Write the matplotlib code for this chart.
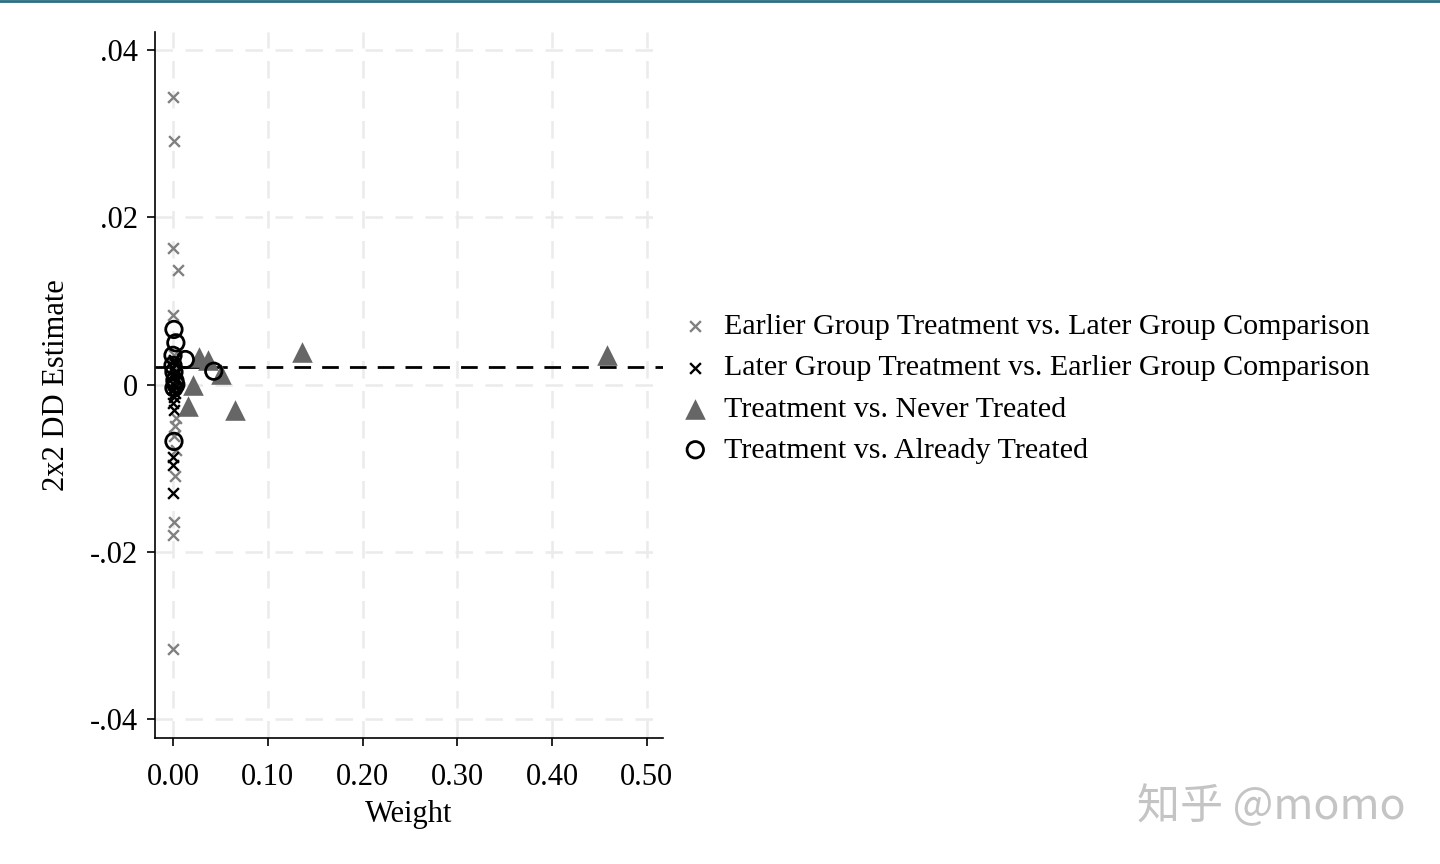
import matplotlib.pyplot as plt
from matplotlib.lines import Line2D

# Earlier group treatment vs later group comparison
early_w = [0.000, 0.001, 0.000, 0.005, 0.000, 0.001, 0.000, 0.002, 0.001, 0.003,
           0.002, 0.001, 0.003, 0.002, 0.001, 0.000, 0.000, 0.000]
early_b = [0.0344, 0.0291, 0.0164, 0.0137, 0.0083, 0.0035, 0.0028, 0.0018, -0.0005,
           -0.0040, -0.0050, -0.0062, -0.0078, -0.0110, -0.0164, -0.0180, -0.0317, 0.0008]

# Later group treatment vs earlier group comparison
late_w = [0.001, 0.002, 0.000, 0.002, 0.001, 0.003, 0.001, 0.000, 0.002, 0.001,
          0.000, 0.001, 0.000, 0.000, 0.000]
late_b = [0.0030, 0.0025, 0.0020, 0.0015, 0.0010, 0.0005, 0.0000, -0.0005, -0.0010,
          -0.0015, -0.0022, -0.0030, -0.0087, -0.0096, -0.0130]

# Treatment vs never treated
never_w = [0.458, 0.136, 0.027, 0.037, 0.051, 0.021, 0.016, 0.065]
never_b = [0.0035, 0.0039, 0.0033, 0.0029, 0.0013, 0.0000, -0.0026, -0.0030]

# Treatment vs already treated
already_w = [0.001, 0.003, 0.013, 0.043, 0.001, 0.000, 0.000, 0.001, 0.002, 0.003, 0.001]
already_b = [0.0066, 0.0050, 0.0030, 0.0016, -0.0068, 0.0035, 0.0023, 0.0015, 0.0005,
             0.0000, -0.0004]

overall = 0.0021

xticks = [0.0, 0.1, 0.2, 0.3, 0.4, 0.5]
xtick_labels = ['0.00', '0.10', '0.20', '0.30', '0.40', '0.50']
yticks = [0.04, 0.02, 0.0, -0.02, -0.04]
ytick_labels = ['.04', '.02', '0', '-.02', '-.04']

plt.rcParams['font.family'] = ['Liberation Serif', 'DejaVu Serif']

fig = plt.figure(figsize=(14.4, 8.64), dpi=100)
ax = fig.add_axes([155 / 1440, 1 - 738 / 864, (663 - 155) / 1440, (738 - 32) / 864])

ax.grid(True, color='#ebebeb', linestyle=(0, (7, 5)), linewidth=1.8)
ax.set_axisbelow(True)

ax.scatter(early_w, early_b, marker='x', s=60, color='#808080', linewidths=1.7,
           label='Earlier Group Treatment vs. Later Group Comparison', zorder=3)
ax.scatter(late_w, late_b, marker='x', s=60, color='black', linewidths=1.7,
           label='Later Group Treatment vs. Earlier Group Comparison', zorder=3)
ax.scatter(never_w, never_b, marker='^', s=220, color='#666666', linewidths=0,
           label='Treatment vs. Never Treated', zorder=3)
ax.scatter(already_w, already_b, marker='o', s=140, facecolors='none', edgecolors='black',
           linewidths=2, label='Treatment vs. Already Treated', zorder=4)

ax.axhline(overall, color='black', linestyle=(0, (6, 4)), linewidth=2, zorder=2)

ax.set_xlim(-0.019, 0.517)
ax.set_ylim(-0.0423, 0.0422)
ax.set_xticks(xticks)
ax.set_xticklabels(xtick_labels)
ax.set_yticks(yticks)
ax.set_yticklabels(ytick_labels)
ax.tick_params(labelsize=22, length=6, width=1.2, direction='out')
ax.tick_params(axis='x', pad=12)
ax.tick_params(axis='y', pad=6)
for side in ['top', 'right']:
    ax.spines[side].set_visible(False)
for side in ['left', 'bottom']:
    ax.spines[side].set_linewidth(1.2)

ax.set_xlabel('Weight', fontsize=22, labelpad=6)
ax.set_ylabel('2x2 DD Estimate', fontsize=22, labelpad=14)

ax.legend(loc='center left', bbox_to_anchor=(0.975, 0.5 + (384.5 - 388) / 706), frameon=False,
          fontsize=21.6, handletextpad=0.35, labelspacing=0.47, handlelength=1.2,
          markerscale=1.0)

fig.text(0.883, 0.066, '知乎 @momo', fontsize=31, color='#c4c4c4', ha='center', va='center',
         family=['Noto Sans CJK SC', 'DejaVu Sans'])
fig.add_artist(Line2D([0, 1], [0.999, 0.999], color='#2a6f80', linewidth=2,
                      transform=fig.transFigure))

fig.savefig('out.png', dpi=100)
